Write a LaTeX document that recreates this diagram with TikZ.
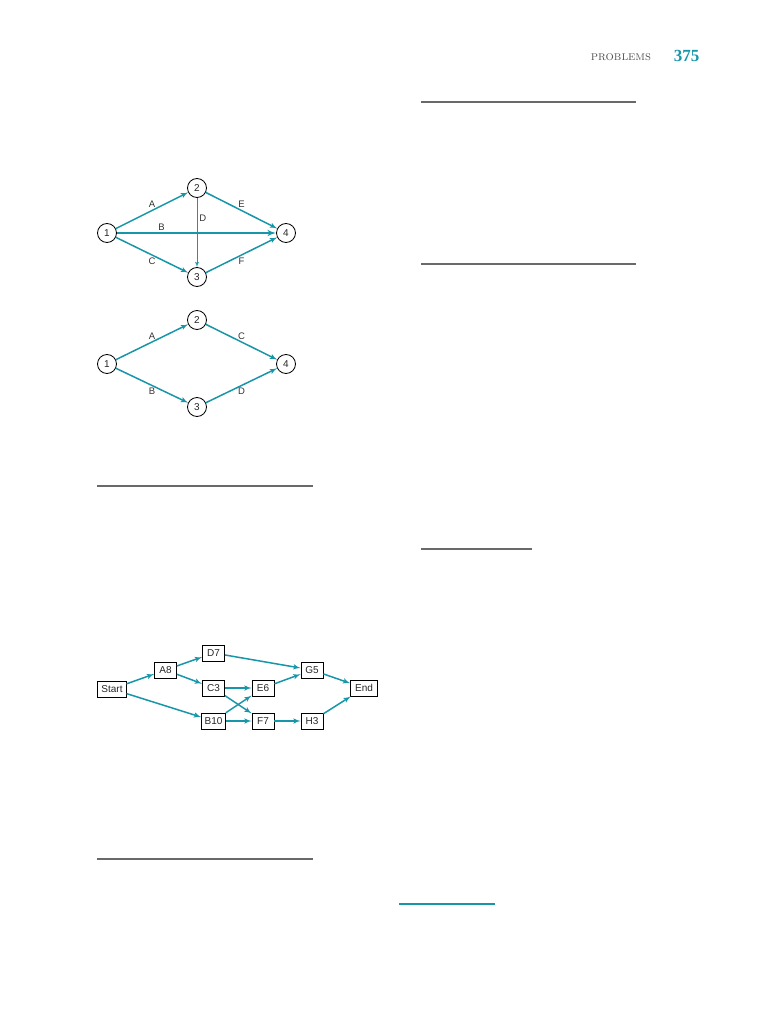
\documentclass[tikz,border=0pt]{standalone}
\usepackage{fontspec}
\newfontfamily\figfont{Liberation Sans}
\newfontfamily\headfont{Liberation Serif}
\usepackage{tikz}
\usetikzlibrary{positioning}
\usetikzlibrary{arrows}
\definecolor{netteal}{RGB}{22,150,168}
\definecolor{rulegray}{RGB}{105,105,105}

\begin{document}
\begin{tikzpicture}[
    x=1pt, y=-1pt,              % one unit is one pixel of the page
    node distance=18pt and 49pt, % Global setup of box spacing
    ]
% -------------------------------------------------
\tikzset{
  circ/.style={draw, circle, on grid, line width=0.8pt, minimum size=19pt, inner sep=0pt, text=black!85, font=\figfont\fontsize{10}{10}\selectfont},
  task/.style={draw, rectangle, on grid, line width=0.9pt, minimum width=22pt, minimum height=16pt, inner xsep=3pt, text=black!85, font=\figfont\fontsize{10}{10}\selectfont},
  lab/.style={font=\figfont\fontsize{9.5}{10}\selectfont, text=black!80, inner sep=2pt},
  line/.style={draw, netteal, line width=1.5pt, -latex'},
  rule/.style={draw, rulegray, line width=1.5pt}
}
\useasboundingbox (0,0) rectangle (768,1024);
% -------------------------------------------------
% Running head and rules of the page

\node [font=\scshape\fontsize{13}{14}\selectfont, text=rulegray!80!black] (runhead) at (621,57) {problems};
\node [font=\headfont\bfseries\fontsize{17}{17}\selectfont, text=netteal] (folio) at (686.5,56) {375};

\path [rule] (421,102) -- (636,102);
\path [rule] (421,264) -- (636,264);
\path [rule] (97,486) -- (313,486);
\path [rule] (421,549) -- (532,549);
\path [rule] (97,859) -- (313,859);
\path [draw, netteal, line width=2pt] (399,904) -- (495,904);

% -------------------------------------------------
% First network

\node [circ] (a1) at (107,233) {1};
\node [circ, above right=45pt and 90pt of a1] (a2) {2};
\node [circ, below right=44pt and 90pt of a1] (a3) {3};
\node [circ, right=179pt of a1] (a4) {4};

\path [line] (a1) -- node [lab, above] (la) {A} (a2);
\path [line, line width=2pt] (a1) -- node [lab, above, pos=0.28] (lb) {B} (a4);
\path [line] (a1) -- node [lab, below] (lc) {C} (a3);
\path [line, line width=0.8pt] (a2) -- node [lab, right, pos=0.3] (ld) {D} (a3);
\path [line] (a2) -- node [lab, above] (le) {E} (a4);
\path [line] (a3) -- node [lab, below] (lf) {F} (a4);

% -------------------------------------------------
% Second network

\node [circ] (b1) at (107,364) {1};
\node [circ, above right=44pt and 90pt of b1] (b2) {2};
\node [circ, below right=43pt and 90pt of b1] (b3) {3};
\node [circ, right=179pt of b1] (b4) {4};

\path [line] (b1) -- node [lab, above] (ma) {A} (b2);
\path [line] (b1) -- node [lab, below] (mb) {B} (b3);
\path [line] (b2) -- node [lab, above] (mc) {C} (b4);
\path [line] (b3) -- node [lab, below] (md) {D} (b4);

% -------------------------------------------------
% Activity-on-node network

\node [task, inner xsep=3.5pt] (start) at (112,689) {Start};
\node [task, above right=19pt and 53.5pt of start] (a8) {A8};
\node [task, above right=17pt and 48pt of a8] (d7) {D7};
\node [task, below right=18pt and 48pt of a8] (c3) {C3};
\node [task, below=33pt of c3] (b10) {B10};
\node [task, right=49.5pt of c3] (e6) {E6};
\node [task, right=49.5pt of b10] (f7) {F7};
\node [task, above right=18pt and 49pt of e6] (g5) {G5};
\node [task, right=49pt of f7] (h3) {H3};
\node [task, inner xsep=4.5pt, below right=18pt and 52pt of g5] (end) {End};

\path [line] (start) -- (a8);
\path [line] (start) -- (b10);
\path [line] (a8) -- (d7);
\path [line] (a8) -- (c3);
\path [line] (c3) -- (e6);
\path [line] (c3) -- (f7);
\path [line] (b10) -- (e6);
\path [line] (b10) -- (f7);
\path [line] (d7) -- (g5);
\path [line] (e6) -- (g5);
\path [line] (f7) -- (h3);
\path [line] (g5) -- (end);
\path [line] (h3) -- (end);

\end{tikzpicture}
\end{document}
